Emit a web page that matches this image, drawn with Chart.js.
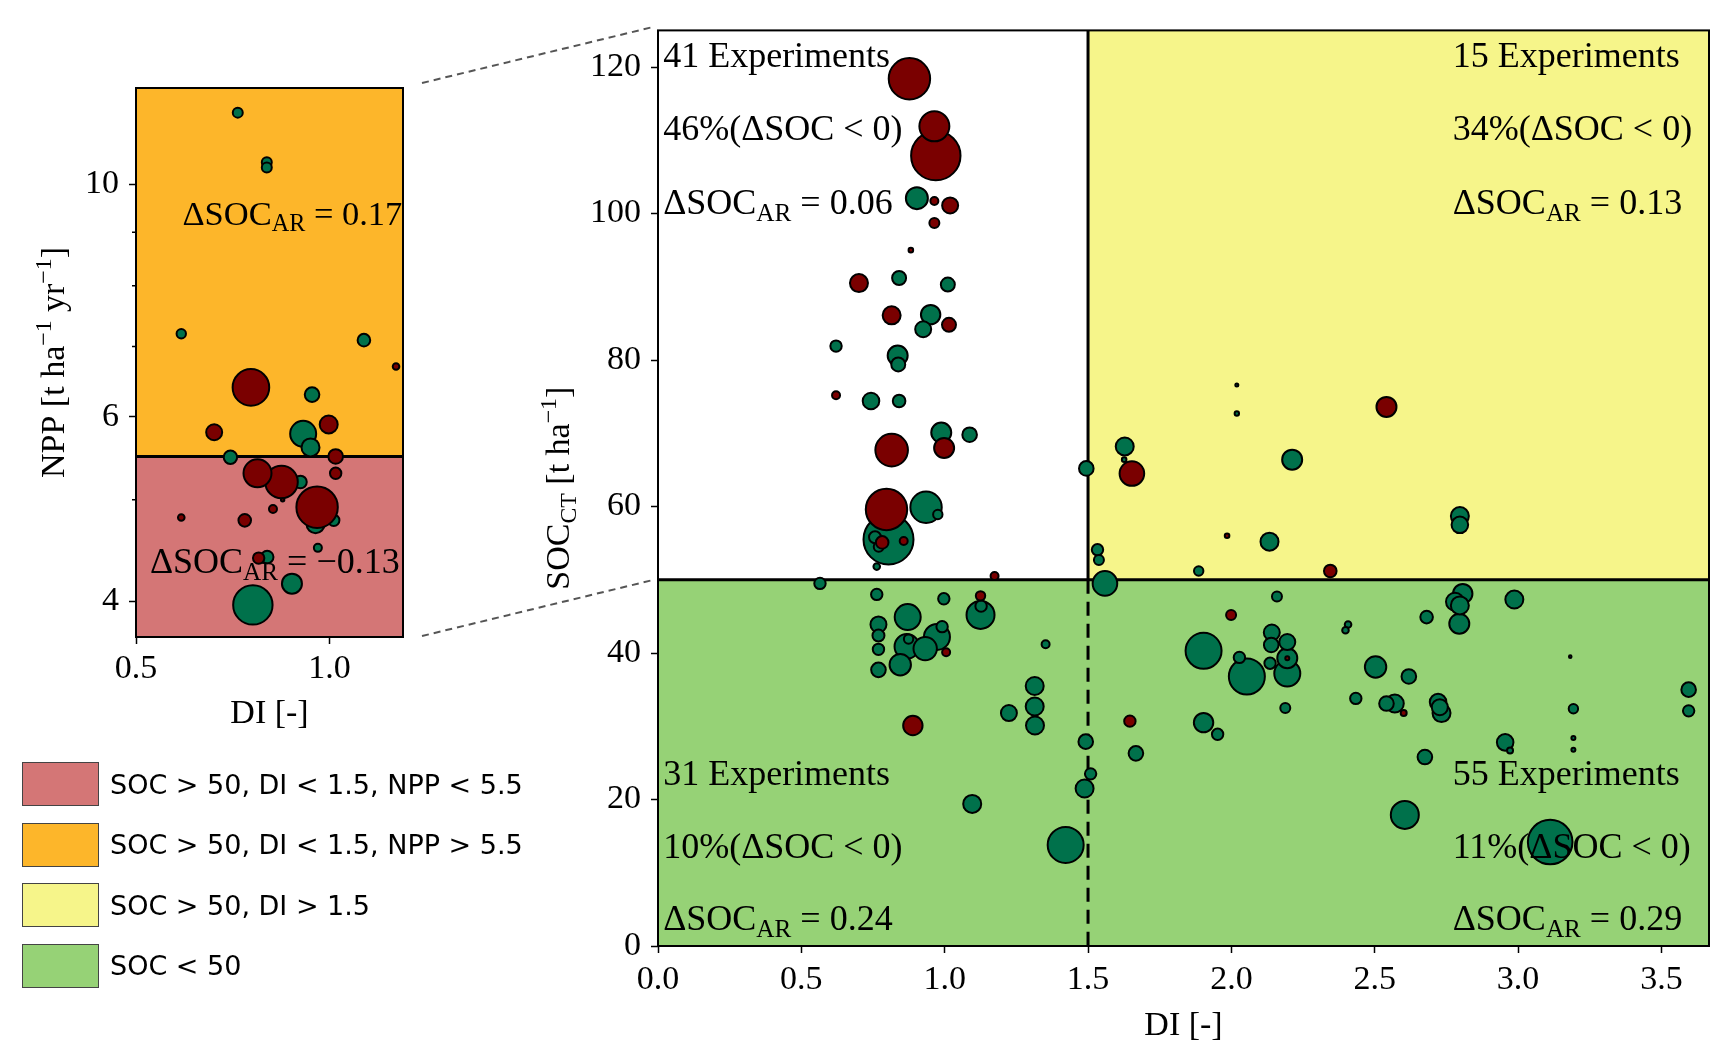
<!DOCTYPE html>
<html>
<head>
<meta charset="utf-8">
<title>SOC vs DI</title>
<script src="https://cdn.jsdelivr.net/npm/chart.js@4.4.0/dist/chart.umd.min.js"></script>
<style>
  body { margin: 0; background: #fff; width: 1725px; height: 1057px; overflow: hidden; position: relative; }
  #nppChart { position: absolute; left: 0; top: 0; }
  #socChart { position: absolute; left: 500px; top: 0; }
  #links { position: absolute; left: 0; top: 0; pointer-events: none; }
  .legend { position: absolute; left: 22px; top: 762px; }
  .legend .row { display: flex; align-items: center; height: 44px; margin-bottom: 16.5px; }
  .legend .box { width: 77px; height: 44px; border: 1px solid #444; box-sizing: border-box; margin-right: 11px; }
  .legend span { font: 27px "DejaVu Sans", sans-serif; color: #000; white-space: nowrap; }
</style>
</head>
<body>
<canvas id="nppChart" width="420" height="740"></canvas>
<canvas id="socChart" width="1225" height="1057"></canvas>
<svg id="links" width="1725" height="1057">
  <line x1="422" y1="83" x2="653" y2="27" stroke="#555" stroke-width="2" stroke-dasharray="7 5"/>
  <line x1="422" y1="636" x2="653" y2="580" stroke="#555" stroke-width="2" stroke-dasharray="7 5"/>
</svg>
<div class="legend" id="legend"></div>

<script>
// ---- data: [DI, SOC or NPP, relative marker size] ----
// big panel, SOC_CT against DI
const socGreen = [
  [0.903, 102.1, 12], [0.841, 91.2, 8], [1.011, 90.3, 8], [0.951, 86.2, 10.7], [0.925, 84.2, 9],
  [0.621, 81.9, 6.7], [0.836, 80.6, 11], [0.838, 79.4, 8], [0.743, 74.4, 9.3], [0.841, 74.4, 7.3],
  [0.988, 70.1, 11], [1.087, 69.8, 8.3], [1.494, 65.2, 8.3], [0.935, 59.9, 16.7], [0.976, 58.9, 5.7],
  [0.804, 55.5, 26], [0.757, 55.8, 7], [0.77, 54.5, 6], [0.763, 51.8, 4.3],
  [2.019, 76.6, 2.5], [2.019, 72.7, 3.2], [1.628, 68.2, 10], [1.626, 66.4, 3.3], [2.212, 66.4, 11],
  [2.133, 55.2, 10], [1.533, 54.1, 6.7], [1.538, 52.7, 6], [1.886, 51.2, 5.7], [2.797, 58.7, 10],
  [2.797, 57.5, 9.3],
  [0.565, 49.5, 6.7], [1.559, 49.5, 13.3], [0.763, 48.0, 6.7], [0.997, 47.4, 6.7], [1.127, 46.4, 6.7],
  [1.125, 45.2, 15], [0.871, 44.9, 14], [0.769, 43.9, 9], [0.769, 42.4, 7], [0.769, 40.5, 6.7],
  [0.991, 43.6, 6.7], [0.973, 42.2, 14], [0.932, 40.6, 12.7], [0.868, 40.9, 13.3], [0.874, 41.9, 5.7],
  [0.845, 38.4, 11.7], [0.769, 37.7, 8.3], [1.352, 41.2, 5], [1.314, 35.5, 10], [1.314, 32.7, 10],
  [1.224, 31.8, 9], [1.315, 30.1, 10], [1.492, 27.9, 8.3], [1.667, 26.3, 8.3], [1.509, 23.5, 6.7],
  [1.488, 21.5, 10], [1.096, 19.4, 10], [1.422, 13.8, 19],
  [2.159, 47.7, 6], [2.407, 43.9, 4.3], [2.398, 43.1, 4.3], [2.681, 44.9, 7.3], [1.903, 40.3, 19],
  [2.141, 42.8, 9], [2.139, 41.1, 8.3], [2.195, 41.5, 9], [2.028, 39.4, 6.7], [2.135, 38.6, 6.7],
  [2.195, 39.3, 11], [2.054, 36.8, 19], [2.195, 37.2, 14], [2.188, 32.5, 6], [1.903, 30.5, 10.7],
  [1.952, 28.9, 6.7], [2.503, 38.1, 11.7], [2.619, 36.8, 8.3], [2.434, 33.8, 6.7], [2.570, 33.1, 10],
  [2.541, 33.1, 8.3], [2.721, 33.3, 9.3], [2.733, 31.8, 10], [2.727, 32.6, 9], [2.675, 25.8, 8.3],
  [2.807, 48.1, 10.7], [2.780, 47.0, 10], [2.797, 46.5, 10], [2.795, 44.0, 11], [2.987, 47.3, 10],
  [3.182, 39.5, 2.3], [3.595, 35.0, 8.3], [3.595, 32.1, 6.7], [3.193, 32.4, 5.7], [3.193, 28.4, 3],
  [3.193, 26.8, 3], [2.955, 27.8, 9.3], [2.972, 26.7, 4], [2.605, 17.9, 15], [3.112, 14.2, 23.3]
];
const socRed = [
  [0.877, 118.4, 21.7], [0.964, 111.9, 16], [0.969, 107.9, 25.7], [0.964, 101.7, 5], [1.019, 101.1, 9],
  [0.964, 98.7, 6], [0.882, 95.0, 3.3], [0.701, 90.5, 10], [0.815, 86.1, 10], [1.015, 84.8, 8],
  [0.621, 75.2, 5], [0.998, 68.0, 11], [0.815, 67.7, 17.3], [0.797, 59.6, 21.7], [0.782, 55.1, 7.3],
  [0.857, 55.3, 5], [1.174, 50.5, 5],
  [1.653, 64.5, 13.3], [2.541, 73.6, 11], [1.985, 56.0, 3.3], [2.345, 51.2, 7.3],
  [1.125, 47.8, 5.7], [1.005, 40.1, 5], [0.889, 30.1, 10.7], [1.646, 30.7, 6.7], [1.999, 45.2, 6],
  [2.601, 31.8, 4], [2.195, 39.3, 3]
];
// small panel, NPP against DI (SOC > 50, DI < 1.5)
const nppGreen = [
  [0.763, 11.70, 6], [0.838, 10.49, 6], [0.838, 10.37, 6], [0.617, 7.20, 5.7], [1.089, 7.10, 7.3],
  [0.955, 6.30, 8.3], [0.932, 5.78, 14], [0.951, 5.61, 10], [0.744, 5.49, 7.7], [0.925, 5.20, 7.3],
  [1.011, 4.78, 6.7], [0.964, 4.74, 10], [0.970, 4.50, 5], [0.839, 4.41, 7.3], [0.903, 4.16, 11],
  [0.802, 3.97, 20.7]
];
const nppRed = [
  [1.172, 6.70, 4.3], [0.797, 6.40, 19.3], [0.702, 5.80, 9], [0.998, 5.90, 10], [1.016, 5.50, 8.3],
  [1.016, 5.30, 6.7], [0.814, 5.30, 15], [0.876, 5.20, 17.3], [0.879, 5.00, 2.7], [0.854, 4.90, 5],
  [0.968, 4.92, 21.7], [0.781, 4.78, 7.3], [0.817, 4.40, 6.7], [0.617, 4.81, 4.3]
];

// ticks
const diTicks = [0, 0.5, 1, 1.5, 2, 2.5, 3, 3.5];
const socTicks = [0, 20, 40, 60, 80, 100, 120];
const nppDiTicks = [0.5, 1.0];
const nppTicks = [4, 6, 10];
const nppMinorTicks = [5, 7, 8, 9];

// thresholds
const SOC_CUT = 50, DI_CUT = 1.5, NPP_CUT = 5.5;

// quadrant notes
const notesTopLeft = ["41 Experiments", "46%", "0.06"];
const notesTopRight = ["15 Experiments", "34%", "0.13"];
const notesBottomLeft = ["31 Experiments", "10%", "0.24"];
const notesBottomRight = ["55 Experiments", "11%", "0.29"];
const nppNotes = ["0.17", "\u22120.13"];

const legendItems = [
  ["SOC > 50, DI < 1.5, NPP < 5.5", "#d47676"],
  ["SOC > 50, DI < 1.5, NPP > 5.5", "#fdb62a"],
  ["SOC > 50, DI > 1.5", "#f6f58a"],
  ["SOC < 50", "#96d276"]
];

const SERIF = "'Liberation Serif', 'DejaVu Serif', serif";
const RED = "#7a0000";
const GREEN = "#00714b";
const FILL_PINK = legendItems[0][1], FILL_ORANGE = legendItems[1][1];
const FILL_YELLOW = legendItems[2][1], FILL_GREEN = legendItems[3][1];

function bubbles(rows) {
  return rows
    .map(([x, y, s]) => ({ x: x, y: y, r: Math.max(s - 1, 1.3) }))
    .sort((a, b) => b.r - a.r);
}

// text with sub / superscripts, y is the baseline
function drawRich(ctx, parts, x, y, size, align) {
  let total = 0;
  const segs = parts.map((p) => {
    const fs = p.s ? size * 0.7 : size;
    ctx.font = fs + "px " + SERIF;
    const w = ctx.measureText(p.t).width;
    total += w;
    return { t: p.t, fs: fs, w: w, dy: p.s === "sub" ? size * 0.2 : p.s === "sup" ? -size * 0.38 : 0 };
  });
  let cx = align === "right" ? x - total : align === "center" ? x - total / 2 : x;
  ctx.textAlign = "left";
  ctx.textBaseline = "alphabetic";
  ctx.fillStyle = "#000";
  segs.forEach((sg) => {
    ctx.font = sg.fs + "px " + SERIF;
    ctx.fillText(sg.t, cx, y + sg.dy);
    cx += sg.w;
  });
}

function arNote(value) {
  return [{ t: "\u0394SOC" }, { t: "AR", s: "sub" }, { t: " = " + value }];
}
function pctNote(value) {
  return [{ t: value + "(\u0394SOC < 0)" }];
}

function drawNotes(ctx, xs, ys, notes, size) {
  drawRich(ctx, [{ t: notes[0] }], xs, ys[0], size, "left");
  drawRich(ctx, pctNote(notes[1]), xs, ys[1], size, "left");
  drawRich(ctx, arNote(notes[2]), xs, ys[2], size, "left");
}

const tickFont = { family: SERIF, size: 34 };
const tickGrid = { display: true, drawOnChartArea: false, drawTicks: true, tickLength: 7, tickWidth: 1.5, tickColor: "#000" };

// ---- big panel ----
const socDecor = {
  id: "socDecor",
  beforeDraw(chart) {
    const { ctx, chartArea: a, scales: { x, y } } = chart;
    const xc = x.getPixelForValue(DI_CUT), yc = y.getPixelForValue(SOC_CUT);
    ctx.save();
    ctx.fillStyle = "#fff";
    ctx.fillRect(a.left, a.top, a.width, a.height);
    ctx.fillStyle = FILL_YELLOW;
    ctx.fillRect(xc, a.top, a.right - xc, yc - a.top);
    ctx.fillStyle = FILL_GREEN;
    ctx.fillRect(a.left, yc, a.width, a.bottom - yc);
    ctx.restore();
  },
  beforeDatasetsDraw(chart) {
    const { ctx, chartArea: a, scales: { x, y } } = chart;
    const xc = x.getPixelForValue(DI_CUT), yc = y.getPixelForValue(SOC_CUT);
    ctx.save();
    ctx.strokeStyle = "#000";
    ctx.lineWidth = 3;
    ctx.beginPath();
    ctx.moveTo(a.left, yc); ctx.lineTo(a.right, yc);
    ctx.moveTo(xc, a.top); ctx.lineTo(xc, yc);
    ctx.stroke();
    ctx.setLineDash([14, 8]);
    ctx.beginPath();
    ctx.moveTo(xc, yc); ctx.lineTo(xc, a.bottom);
    ctx.stroke();
    ctx.restore();
  },
  afterDatasetsDraw(chart) {
    const { ctx, chartArea: a, scales: { x, y } } = chart;
    ctx.save();
    const top = [120, 110, 100].map((v) => y.getPixelForValue(v));
    const bot = [22, 12, 2.2].map((v) => y.getPixelForValue(v));
    drawNotes(ctx, x.getPixelForValue(0.018), top, notesTopLeft, 36);
    drawNotes(ctx, x.getPixelForValue(2.772), top, notesTopRight, 36);
    drawNotes(ctx, x.getPixelForValue(0.018), bot, notesBottomLeft, 36);
    drawNotes(ctx, x.getPixelForValue(2.772), bot, notesBottomRight, 36);
    ctx.strokeStyle = "#000";
    ctx.lineWidth = 2;
    ctx.strokeRect(a.left, a.top, a.width, a.height);
    ctx.restore();
  },
  afterDraw(chart) {
    const { ctx, chartArea: a } = chart;
    ctx.save();
    drawRich(ctx, [{ t: "DI [-]" }], (a.left + a.right) / 2, 1035, 34, "center");
    ctx.translate(69, (a.top + a.bottom) / 2);
    ctx.rotate(-Math.PI / 2);
    drawRich(ctx, [{ t: "SOC" }, { t: "CT", s: "sub" }, { t: " [t ha" }, { t: "\u22121", s: "sup" }, { t: "]" }], 0, 0, 34, "center");
    ctx.restore();
  }
};

new Chart(document.getElementById("socChart"), {
  type: "bubble",
  data: {
    datasets: [
      { label: "\u0394SOC < 0", data: bubbles(socRed), backgroundColor: RED, borderColor: "#000", borderWidth: 2, order: 0 },
      { label: "\u0394SOC \u2265 0", data: bubbles(socGreen), backgroundColor: GREEN, borderColor: "#000", borderWidth: 2, order: 1 }
    ]
  },
  options: {
    responsive: false,
    animation: false,
    events: [],
    devicePixelRatio: 1,
    layout: { padding: { top: 30, right: 16, left: 0, bottom: 0 }, autoPadding: false },
    plugins: { legend: { display: false }, tooltip: { enabled: false } },
    scales: {
      x: {
        type: "linear", min: 0, max: 3.666,
        afterFit: (s) => { s.height = 111; },
        afterBuildTicks: (s) => { s.ticks = diTicks.map((v) => ({ value: v })); },
        ticks: { callback: (v) => Number(v).toFixed(1), font: tickFont, color: "#000", padding: 7, maxRotation: 0, autoSkip: false },
        grid: tickGrid,
        border: { display: false }
      },
      y: {
        type: "linear", min: 0, max: 125,
        afterFit: (s) => { s.width = 158; },
        afterBuildTicks: (s) => { s.ticks = socTicks.map((v) => ({ value: v })); },
        ticks: { callback: (v) => String(v), font: tickFont, color: "#000", padding: 10, autoSkip: false },
        grid: tickGrid,
        border: { display: false }
      }
    }
  },
  plugins: [socDecor]
});

// ---- small panel ----
const nppDecor = {
  id: "nppDecor",
  beforeDraw(chart) {
    const { ctx, chartArea: a, scales: { y } } = chart;
    const yc = y.getPixelForValue(NPP_CUT);
    ctx.save();
    ctx.fillStyle = FILL_ORANGE;
    ctx.fillRect(a.left, a.top, a.width, yc - a.top);
    ctx.fillStyle = FILL_PINK;
    ctx.fillRect(a.left, yc, a.width, a.bottom - yc);
    ctx.restore();
  },
  beforeDatasetsDraw(chart) {
    const { ctx, chartArea: a, scales: { y } } = chart;
    const yc = y.getPixelForValue(NPP_CUT);
    ctx.save();
    ctx.strokeStyle = "#000";
    ctx.lineWidth = 3;
    ctx.beginPath();
    ctx.moveTo(a.left, yc); ctx.lineTo(a.right, yc);
    ctx.stroke();
    ctx.restore();
  },
  afterDatasetsDraw(chart) {
    const { ctx, chartArea: a, scales: { x, y } } = chart;
    ctx.save();
    drawRich(ctx, arNote(nppNotes[0]), x.getPixelForValue(0.62), y.getPixelForValue(9.15), 34.5, "left");
    drawRich(ctx, arNote(nppNotes[1]), x.getPixelForValue(0.536), y.getPixelForValue(4.26), 36, "left");
    ctx.strokeStyle = "#000";
    ctx.lineWidth = 1.5;
    ctx.beginPath();
    nppMinorTicks.forEach((v) => {
      const py = y.getPixelForValue(v);
      ctx.moveTo(a.left, py); ctx.lineTo(a.left - 4, py);
    });
    ctx.stroke();
    ctx.lineWidth = 2;
    ctx.strokeRect(a.left, a.top, a.width, a.height);
    ctx.restore();
  },
  afterDraw(chart) {
    const { ctx, chartArea: a } = chart;
    ctx.save();
    drawRich(ctx, [{ t: "DI [-]" }], (a.left + a.right) / 2, 723, 34, "center");
    ctx.translate(64, (a.top + a.bottom) / 2);
    ctx.rotate(-Math.PI / 2);
    drawRich(ctx, [{ t: "NPP [t ha" }, { t: "\u22121", s: "sup" }, { t: " yr" }, { t: "\u22121", s: "sup" }, { t: "]" }], 0, 0, 34, "center");
    ctx.restore();
  }
};

new Chart(document.getElementById("nppChart"), {
  type: "bubble",
  data: {
    datasets: [
      { label: "\u0394SOC < 0", data: bubbles(nppRed), backgroundColor: RED, borderColor: "#000", borderWidth: 2, order: 0 },
      { label: "\u0394SOC \u2265 0", data: bubbles(nppGreen), backgroundColor: GREEN, borderColor: "#000", borderWidth: 2, order: 1 }
    ]
  },
  options: {
    responsive: false,
    animation: false,
    events: [],
    devicePixelRatio: 1,
    layout: { padding: { top: 88, right: 17, left: 0, bottom: 0 }, autoPadding: false },
    plugins: { legend: { display: false }, tooltip: { enabled: false } },
    scales: {
      x: {
        type: "linear", min: 0.5, max: 1.19,
        afterFit: (s) => { s.height = 103; },
        afterBuildTicks: (s) => { s.ticks = nppDiTicks.map((v) => ({ value: v })); },
        ticks: { callback: (v) => Number(v).toFixed(1), font: tickFont, color: "#000", padding: 5, maxRotation: 0, autoSkip: false },
        grid: tickGrid,
        border: { display: false }
      },
      y: {
        type: "logarithmic", min: 3.70, max: 12.35,
        afterFit: (s) => { s.width = 136; },
        afterBuildTicks: (s) => { s.ticks = nppTicks.map((v) => ({ value: v })); },
        ticks: { callback: (v) => String(v), font: tickFont, color: "#000", padding: 10, autoSkip: false },
        grid: tickGrid,
        border: { display: false }
      }
    }
  },
  plugins: [nppDecor]
});

// ---- legend ----
const legendEl = document.getElementById("legend");
legendItems.forEach(([text, color]) => {
  const row = document.createElement("div");
  row.className = "row";
  const box = document.createElement("div");
  box.className = "box";
  box.style.background = color;
  const label = document.createElement("span");
  label.textContent = text;
  row.appendChild(box);
  row.appendChild(label);
  legendEl.appendChild(row);
});
</script>
</body>
</html>
